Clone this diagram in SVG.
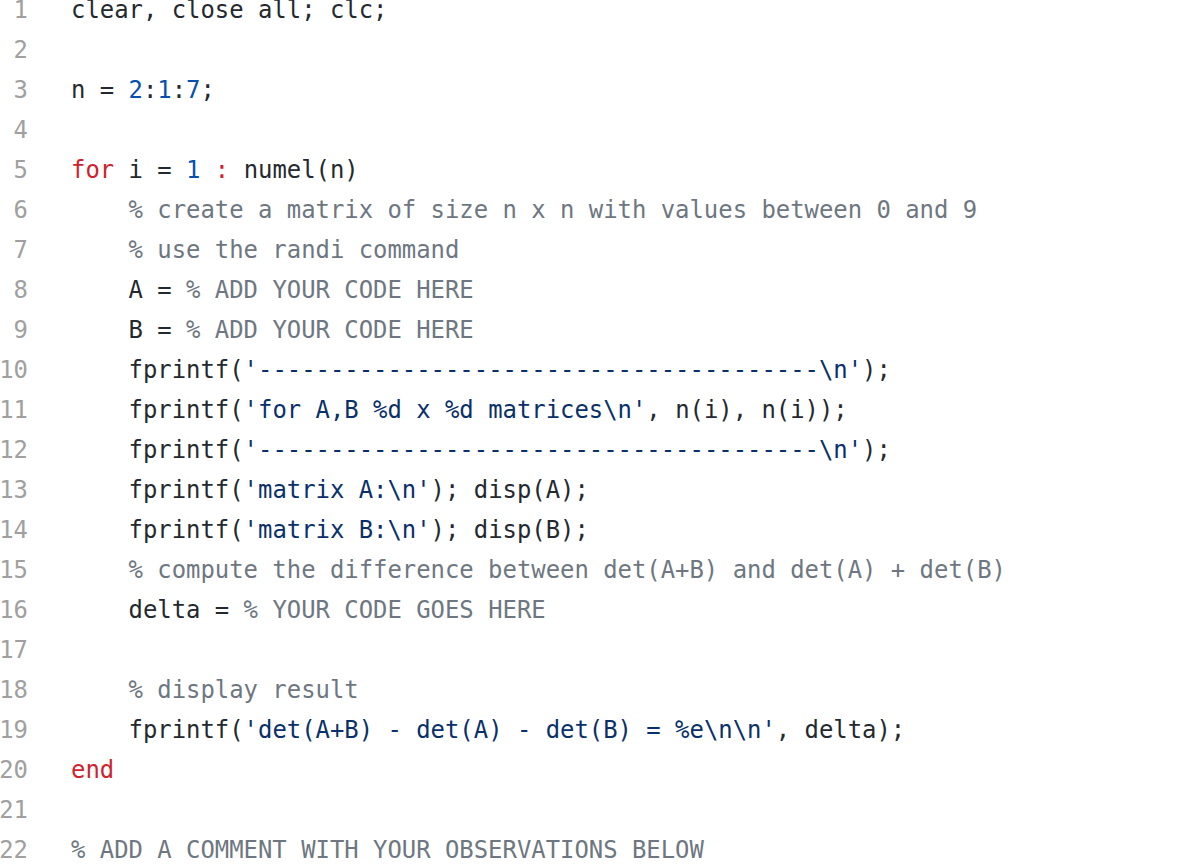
<svg xmlns="http://www.w3.org/2000/svg" width="1188" height="868" viewBox="0 0 1188 868">
<style>
text{font-family:"DejaVu Sans Mono","Liberation Mono",monospace;font-size:23.9px;fill:#24292f;white-space:pre}
.ln{fill:#a0a0a0;text-anchor:end}
.k{fill:#cf222e}.n{fill:#0550ae}.c{fill:#6e7781}.s{fill:#0a3069}
</style>
<rect width="1188" height="868" fill="#fff"/>
<g id="gutter">
<text class="ln" x="28" y="18">1</text><text class="ln" x="28" y="58">2</text><text class="ln" x="28" y="98">3</text><text class="ln" x="28" y="138">4</text><text class="ln" x="28" y="178">5</text><text class="ln" x="28" y="218">6</text><text class="ln" x="28" y="258">7</text><text class="ln" x="28" y="298">8</text><text class="ln" x="28" y="338">9</text><text class="ln" x="28" y="378">10</text><text class="ln" x="28" y="418">11</text><text class="ln" x="28" y="458">12</text><text class="ln" x="28" y="498">13</text><text class="ln" x="28" y="538">14</text><text class="ln" x="28" y="578">15</text><text class="ln" x="28" y="618">16</text><text class="ln" x="28" y="658">17</text><text class="ln" x="28" y="698">18</text><text class="ln" x="28" y="738">19</text><text class="ln" x="28" y="778">20</text><text class="ln" x="28" y="818">21</text><text class="ln" x="28" y="858">22</text>
</g>
<g id="code" xml:space="preserve">
<text x="71" y="18">clear, close all; clc;</text>
<text x="71" y="98">n = <tspan class="n">2</tspan>:<tspan class="n">1</tspan>:<tspan class="n">7</tspan>;</text>
<text x="71" y="178"><tspan class="k">for</tspan> i = <tspan class="n">1</tspan> <tspan class="k">:</tspan> numel(n)</text>
<text x="71" y="218" class="c">    % create a matrix of size n x n with values between 0 and 9</text>
<text x="71" y="258" class="c">    % use the randi command</text>
<text x="71" y="298">    A = <tspan class="c">% ADD YOUR CODE HERE</tspan></text>
<text x="71" y="338">    B = <tspan class="c">% ADD YOUR CODE HERE</tspan></text>
<text x="71" y="378">    fprintf(<tspan class="s">'---------------------------------------\n'</tspan>);</text>
<text x="71" y="418">    fprintf(<tspan class="s">'for A,B %d x %d matrices\n'</tspan>, n(i), n(i));</text>
<text x="71" y="458">    fprintf(<tspan class="s">'---------------------------------------\n'</tspan>);</text>
<text x="71" y="498">    fprintf(<tspan class="s">'matrix A:\n'</tspan>); disp(A);</text>
<text x="71" y="538">    fprintf(<tspan class="s">'matrix B:\n'</tspan>); disp(B);</text>
<text x="71" y="578" class="c">    % compute the difference between det(A+B) and det(A) + det(B)</text>
<text x="71" y="618">    delta = <tspan class="c">% YOUR CODE GOES HERE</tspan></text>
<text x="71" y="698" class="c">    % display result</text>
<text x="71" y="738">    fprintf(<tspan class="s">'det(A+B) - det(A) - det(B) = %e\n\n'</tspan>, delta);</text>
<text x="71" y="778" class="k">end</text>
<text x="71" y="858" class="c">% ADD A COMMENT WITH YOUR OBSERVATIONS BELOW</text>
</g>
</svg>
